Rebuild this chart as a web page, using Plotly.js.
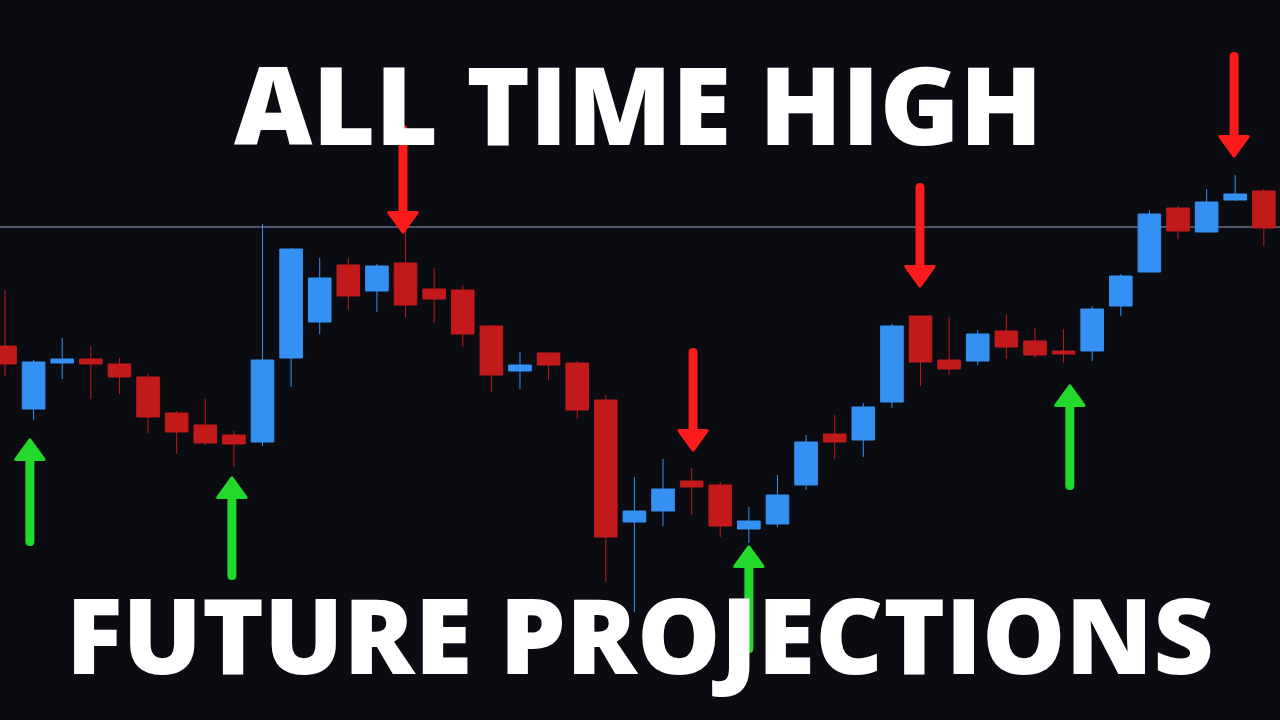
<!DOCTYPE html>
<html>
<head>
<meta charset="utf-8">
<script src="https://cdn.plot.ly/plotly-3.0.1.min.js"></script>
<style>
  html, body { margin: 0; padding: 0; background: #0a0c11; }
  #chart { width: 1280px; height: 720px; }
</style>
</head>
<body>
<div id="chart"></div>
<script>
// Candle index (session number)
const sessions = [0,1,2,3,4,5,6,7,8,9,10,11,12,13,14,15,16,17,18,19,20,21,22,23,24,25,26,27,28,29,30,31,32,33,34,35,36,37,38,39,40,41,42,43,44];
const openP  = [374,311,357,361,356,343,307,295,285,278,362,398,455,429,457,431,430,394,349,367,357,320,198,209,239,235,191,196,235,286,280,318,404,360,359,389,379,369,369,414,448,512,488,520,529];
const highP  = [430,360,382,374,362,346,309,321,289,496,472,462,462,456,490,452,435,395,368,368,359,325,243,261,252,238,213,245,285,305,317,396,404,403,390,406,392,391,414,446,510,514,531,545,531];
const lowP   = [344,300,341,321,326,287,266,275,253,274,333,386,410,408,403,397,373,328,331,340,301,138,108,194,205,183,177,193,230,261,263,312,334,345,355,361,362,357,359,404,448,481,488,519,474];
const closeP = [356,358,361,356,343,303,288,277,276,360,471,442,424,454,415,421,386,345,355,355,310,183,209,231,233,194,199,225,278,278,313,394,358,351,386,373,365,366,411,444,506,489,518,526,492];

// All time high level
const athLevel = 493;

// Arrow markers: position (session), tip price, tail price
const arrowX    = [13.91, 24.05, 31.98, 42.96, 0.87, 7.93, 26.0, 37.22];
const arrowTip  = [486, 268, 432, 562, 282, 244, 175, 336];
const arrowTail = [595, 372, 537, 668, 174, 140, 67, 230];

const titleTop = "ALL TIME HIGH";
const titleBottom = "FUTURE PROJECTIONS";

const BG = '#0a0c11';
const BLUE = '#3590f3';
const RED = '#c21a1a';
const ARROW_RED = '#fb1b1b';
const ARROW_GREEN = '#22d92c';

const trace = {
  type: 'candlestick',
  x: sessions,
  open: openP, high: highP, low: lowP, close: closeP,
  increasing: { line: { color: BLUE, width: 1 }, fillcolor: BLUE },
  decreasing: { line: { color: RED, width: 1 }, fillcolor: RED },
  whiskerwidth: 0,
  hoverinfo: 'skip',
  showlegend: false
};

// arrow outline in pixels (screen coords, y down), pointing up, tip at origin
function arrowPath(len, up) {
  const w = 4.5, h = 16, hl = 23;
  const pts = [
    ['M', -1.6, 1.4], ['Q', 0, -0.8, 1.6, 1.4],
    ['L', h - 1, hl - 3], ['Q', h + 1, hl, h - 2.5, hl],
    ['L', w, hl], ['L', w, len - w],
    ['Q', w, len, 0, len], ['Q', -w, len, -w, len - w],
    ['L', -w, hl], ['L', -(h - 2.5), hl],
    ['Q', -(h + 1), hl, -(h - 1), hl - 3], ['Z']
  ];
  const s = up ? -1 : 1; // plotly pixel y is upward
  return pts.map(p => {
    if (p[0] === 'Z') return 'Z';
    const out = [p[0]];
    for (let i = 1; i < p.length; i += 2) {
      out.push(p[i].toFixed(2) + ',' + (s * p[i + 1]).toFixed(2));
    }
    return out[0] + out.slice(1).join(' ');
  }).join(' ');
}

const shapes = [{
  type: 'line', xref: 'paper', x0: 0, x1: 1, yref: 'y', y0: athLevel, y1: athLevel,
  line: { color: '#8fa2c2', width: 1 }, layer: 'below'
}];

const yRange = [0, 720];
const pxPerUnit = 720 / (yRange[1] - yRange[0]);
for (let i = 0; i < arrowX.length; i++) {
  const up = arrowTip[i] > arrowTail[i];
  const len = Math.abs(arrowTip[i] - arrowTail[i]) * pxPerUnit;
  shapes.push({
    type: 'path', xref: 'x', yref: 'y',
    xsizemode: 'pixel', ysizemode: 'pixel',
    xanchor: arrowX[i], yanchor: arrowTip[i],
    path: arrowPath(len, up),
    fillcolor: up ? ARROW_GREEN : ARROW_RED,
    line: { width: 0 },
    layer: 'above'
  });
}

const fontFamily = '"Open Sans", "Noto Sans", sans-serif';

const layout = {
  width: 1280, height: 720,
  margin: { l: 0, r: 0, t: 0, b: 0, pad: 0 },
  paper_bgcolor: BG, plot_bgcolor: BG,
  showlegend: false,
  hovermode: false,
  boxgap: 0.21, boxgroupgap: 0,
  xaxis: { range: [-0.175, 44.565], visible: false, showgrid: false, zeroline: false, rangeslider: { visible: false }, fixedrange: true },
  yaxis: { range: yRange, visible: false, showgrid: false, zeroline: false, fixedrange: true },
  shapes: shapes,
  annotations: [
    { text: titleTop, xref: 'paper', yref: 'paper', x: 0.4985, y: 1 - 104 / 720, xanchor: 'center', yanchor: 'middle', showarrow: false,
      font: { family: fontFamily, size: 108, color: '#ffffff', weight: 800 } },
    { text: titleBottom, xref: 'paper', yref: 'paper', x: 0.5, y: 1 - 633 / 720, xanchor: 'center', yanchor: 'middle', showarrow: false,
      font: { family: fontFamily, size: 105, color: '#ffffff', weight: 800 } }
  ]
};

Plotly.newPlot('chart', [trace], layout, { staticPlot: true, displayModeBar: false });
</script>
</body>
</html>
